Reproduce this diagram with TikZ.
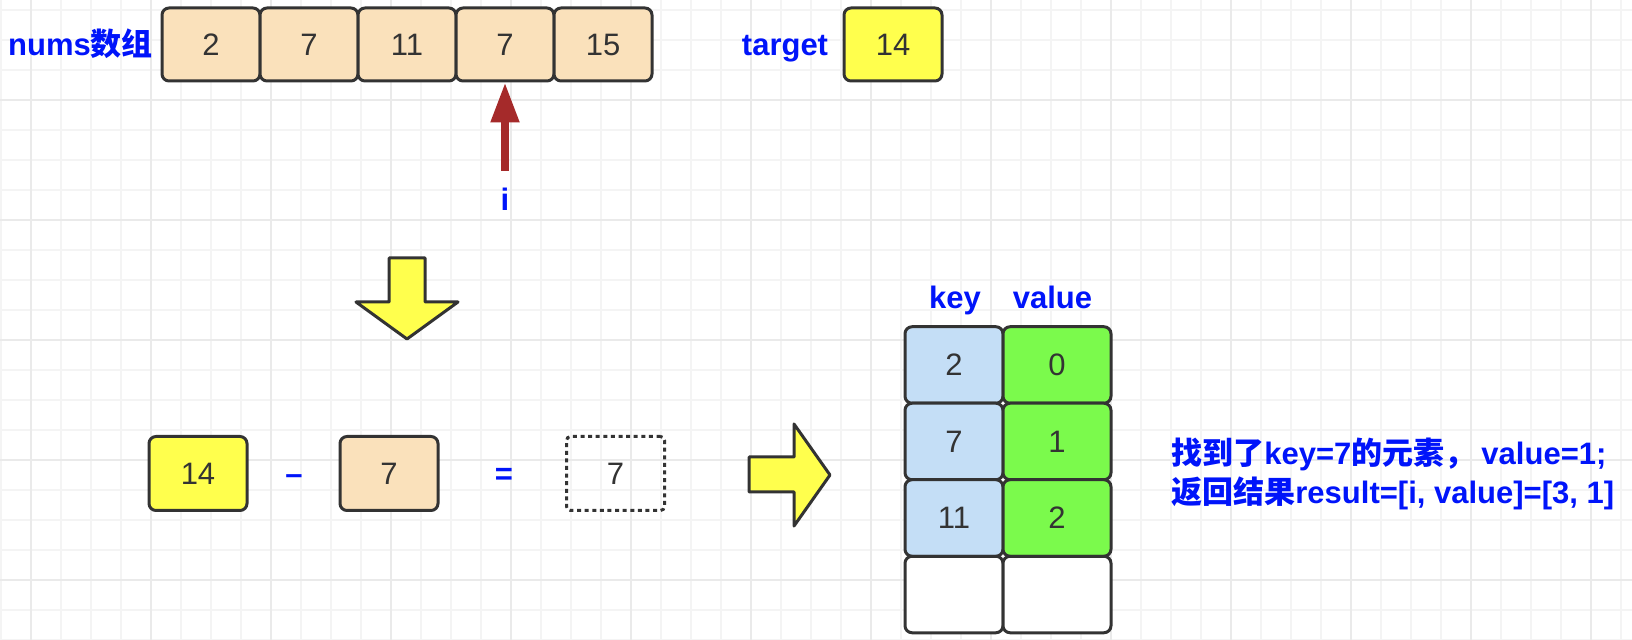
\documentclass[tikz,border=0pt]{standalone}
\usepackage{fontspec}
\setmainfont{Liberation Sans}
\newfontfamily\cjk{Noto Sans CJK SC}
\usetikzlibrary{arrows.meta}
\definecolor{gridminor}{HTML}{F4F4F4}
\definecolor{gridmajor}{HTML}{EAEAEA}
\definecolor{strokegray}{HTML}{333333}
\definecolor{numgray}{HTML}{333333}
\definecolor{beige}{HTML}{FAE1BB}
\definecolor{yell}{HTML}{FFFF4D}
\definecolor{keyblue}{HTML}{C4DEF6}
\definecolor{valgreen}{HTML}{7BFA4C}
\definecolor{lblblue}{HTML}{0014FA}
\definecolor{arrred}{HTML}{A52A2A}
\tikzset{
  cell/.style={draw=strokegray, line width=1.5pt, rounded corners=3.5pt,
    minimum width=49pt, minimum height=36.5pt, inner sep=0pt,
    font=\fontsize{15.5}{18}\selectfont, text=numgray},
  lbl/.style={text=lblblue, font=\bfseries\fontsize{15.5}{18}\selectfont, inner sep=0pt},
  blockarrow/.style={draw=strokegray, fill=yell, line width=1.5pt, line join=round},
  redarr/.style={draw=arrred, line width=4pt,
    -{Triangle[width=13.5pt,length=20pt]}}
}
\begin{document}
\begin{tikzpicture}[x=0.5pt,y=-0.5pt]
\fill[white] (0,0) rectangle (1632,640);
\useasboundingbox (0,0) rectangle (1632,640);
% grid
\foreach \x in {1,31,...,1631} \draw[gridminor,line width=0.8pt] (\x,0) -- (\x,640);
\foreach \y in {10,40,...,640} \draw[gridminor,line width=0.8pt] (0,\y) -- (1632,\y);
\foreach \x in {31,151,...,1631} \draw[gridmajor,line width=1pt] (\x,0) -- (\x,640);
\foreach \y in {100,220,...,640} \draw[gridmajor,line width=1pt] (0,\y) -- (1632,\y);

% top row
\node[lbl, anchor=base] (numslbl) at (80.5,55.5) {nums{\cjk 数组}};
\node[cell, fill=beige] (b1) at (211,44.5) {2};
\node[cell, fill=beige] (b2) at (309,44.5) {7};
\node[cell, fill=beige] (b3) at (407,44.5) {11};
\node[cell, fill=beige] (b4) at (505,44.5) {7};
\node[cell, fill=beige] (b5) at (603,44.5) {15};
\node[lbl, anchor=base] (targetlbl) at (785,55.5) {target};
\node[cell, fill=yell] (tgt) at (893,44.5) {14};

% pointer i
\node[lbl, anchor=base] (ilbl) at (505,211) {i};
\coordinate (istart) at (505,171);
\draw[redarr] (istart) -- (b4.south);

% down block arrow
\draw[blockarrow] (389,258) -- (425,258) -- (425,302) -- (458,302) -- (407,339)
  -- (356,302) -- (389,302) -- cycle;

% bottom equation
\node[cell, fill=yell, minimum height=37pt] (e14) at (198,473.5) {14};
\node[lbl, anchor=base] (minus) at (294,484.5) {–};
\node[cell, fill=beige, minimum height=37pt] (e7) at (389,473.5) {7};
\node[lbl, anchor=base] (eq) at (504,484.5) {=};
\node[cell, fill=none, dash pattern=on 2pt off 1.8pt, rounded corners=2pt, minimum height=37pt] (res) at (615.5,473.5) {7};

% right block arrow
\draw[blockarrow] (749,457) -- (794,457) -- (794,424) -- (830,475) -- (794,526)
  -- (794,492) -- (749,492) -- cycle;

% hash table
\node[lbl, anchor=base] (keylbl) at (955,309) {key};
\node[lbl, anchor=base] (vallbl) at (1052.5,309) {value};
\node[cell, fill=keyblue, minimum height=38.25pt] (k1) at (954,365) {2};
\node[cell, fill=keyblue, minimum height=38.25pt] (k2) at (954,441.5) {7};
\node[cell, fill=keyblue, minimum height=38.25pt] (k3) at (954,518) {11};
\node[cell, fill=white, minimum height=38.25pt] (k4) at (954,594.5) {};
\node[cell, fill=valgreen, minimum width=54pt, minimum height=38.25pt] (v1) at (1057,365) {0};
\node[cell, fill=valgreen, minimum width=54pt, minimum height=38.25pt] (v2) at (1057,441.5) {1};
\node[cell, fill=valgreen, minimum width=54pt, minimum height=38.25pt] (v3) at (1057,518) {2};
\node[cell, fill=white, minimum width=54pt, minimum height=38.25pt] (v4) at (1057,594.5) {};

% result text
\node[lbl, anchor=base west] (res1) at (1171,465) {{\cjk 找到了}key=7{\cjk 的元素，}\hspace{3pt}value=1;};
\node[lbl, anchor=base west] (res2) at (1171,503) {{\cjk 返回结果}result=[i, value]=[3, 1]};
\end{tikzpicture}
\end{document}
